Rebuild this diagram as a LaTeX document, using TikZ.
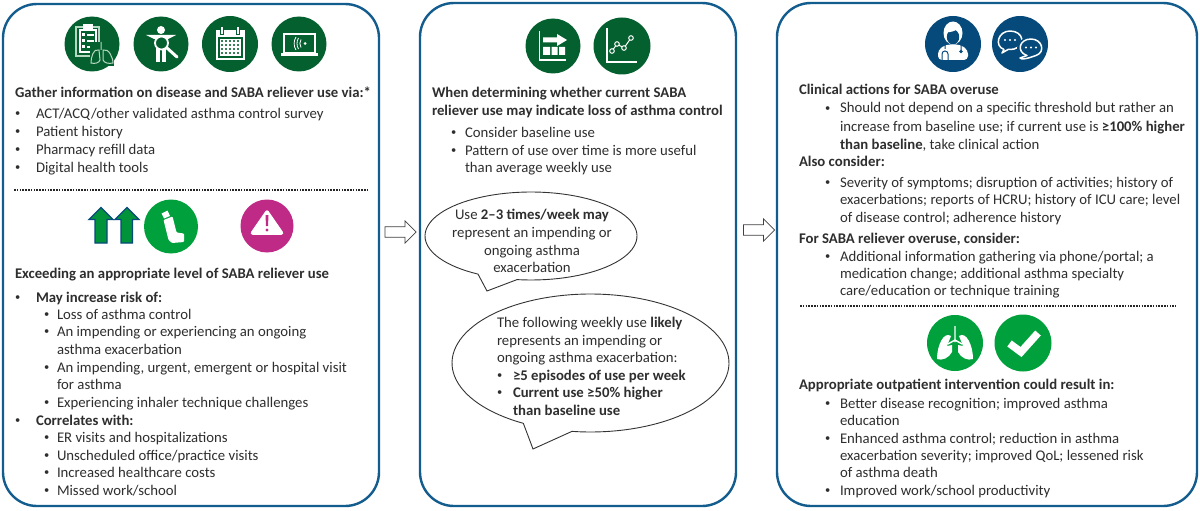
\documentclass[tikz,border=0pt]{standalone}
\usepackage{fontspec}
\setmainfont{Carlito}
\usetikzlibrary{shapes.arrows}
\definecolor{dkgreen}{HTML}{05602F}
\definecolor{brgreen}{HTML}{00A03C}
\definecolor{pinkc}{HTML}{C02A87}
\definecolor{navyc}{HTML}{054A7A}
\definecolor{borderc}{HTML}{135C8E}
\definecolor{txtc}{HTML}{2E2E2E}
\definecolor{palegreen}{HTML}{B5D8C0}
\tikzset{
 panel/.style={draw=borderc,line width=2.4pt,fill=white,rounded corners=34pt,inner sep=0pt},
 txt/.style={anchor=base west,inner sep=0pt,outer sep=0pt,text=txtc,font=\fontsize{14.75}{17}\selectfont},
 ctxt/.style={txt,anchor=base},
 icon/.style={circle,inner sep=0pt,minimum size=#1},
 gc/.style={icon=#1,fill=dkgreen},
 bc/.style={icon=#1,fill=brgreen},
 nc/.style={icon=#1,fill=navyc},
 pc/.style={icon=#1,fill=pinkc},
 dotline/.style={line width=1.4pt,dash pattern=on 1.5pt off 1.3pt,draw=black!85},
 blockarrow/.style={single arrow,draw=black!75,fill=white,line width=.7pt,minimum height=31pt,minimum width=22pt,inner sep=4.5pt,single arrow head extend=5.5pt,single arrow tip angle=90},
 upar/.style={draw=navyc,fill=brgreen!80!dkgreen,line width=1.4pt,line join=miter},
 bubble/.style={draw=black!80,fill=white,line width=.9pt,line join=miter}
}
\newcommand{\tl}[4]{\node[txt] (#1) at (#2,#3) {#4};}
\newcommand{\bl}[5]{\node[txt] (#1b) at (#2,#4-1.2) {\fontsize{10.5}{12}\selectfont •};\node[txt] (#1) at (#3,#4) {#5};}
\begin{document}
\begin{tikzpicture}[x=1pt,y=-1pt]
\useasboundingbox (0,0) rectangle (1200,511);
\fill[white] (0,0) rectangle (1200,511);
% panels
\node[panel,minimum width=376pt,minimum height=502pt] (p1) at (191,255) {};
\node[panel,minimum width=316pt,minimum height=503pt] (p2) at (578,254.5) {};
\node[panel,minimum width=420pt,minimum height=503pt] (p3) at (987,254.5) {};
% block arrows
\node[blockarrow] (a1) at (398,232) {};
\node[blockarrow] (a2) at (756.5,230) {};
% icon discs
\node[gc=55pt] (i1) at (92,44) {};
\node[gc=55pt] (i2) at (161,44) {};
\node[gc=56pt] (i3) at (230,44) {};
\node[gc=55pt] (i4) at (299,44) {};
\node[bc=54pt] (i5) at (171,226.5) {};
\node[pc=53pt] (i6) at (267,226) {};
\node[gc=55pt] (m1) at (553,46) {};
\node[gc=57pt] (m2) at (622,46) {};
\node[nc=56pt] (r1) at (953,44) {};
\node[nc=56pt] (r2) at (1020,44) {};
\node[bc=56pt] (r3) at (955,343) {};
\node[bc=57pt] (r4) at (1023,343) {};
% clipboard + lungs
\draw[palegreen,line width=1.2pt] (76,27) rectangle (99,56);
\draw[white,fill=white] (83,24) rectangle (92,29);
\draw[white,line width=1.2pt] (80,30) rectangle (96,52);
\foreach \yy in {35,41,47}{\fill[white] (82,\yy-1.5) rectangle (85,\yy+1.5);\draw[white,line width=1.2pt] (87,\yy) -- (94,\yy);}
\fill[dkgreen] (90,42) rectangle (114,66);
\draw[palegreen,line width=1pt,fill=dkgreen] (101,42) -- (101,50) (99,50) .. controls (93,48) and (91,58) .. (91,63) .. controls (95,64) and (99,63) .. (100,60) -- cycle
 (103,50) .. controls (109,48) and (113,58) .. (113,63) .. controls (109,64) and (104,63) .. (103,60) -- cycle;
% person + magnifier
\fill[white] (161,30) circle (4);
\fill[white] (146,35) -- (176,35) -- (168,39) -- (154,39) -- cycle;
\fill[white] (156,36) rectangle (166,50);
\fill[white] (156,50) rectangle (160.3,62);
\fill[white] (162,50) rectangle (166.3,62);
\draw[white,fill=dkgreen,line width=1.8pt] (161.5,43) circle (6.5);
\draw[white,line width=3pt,line cap=round] (167,48) -- (177,57);
% calendar
\fill[white] (216,30) rectangle (245,60);
\fill[dkgreen] (218,37) rectangle (243,58);
\fill[white] (220,39) rectangle (241,56);
\foreach \xx in {222,226,230,234,238}{\foreach \yy in {41,45,49,53}{\fill[dkgreen!80] (\xx-1.3,\yy-1.3) rectangle (\xx+1.3,\yy+1.3);}}
\draw[dkgreen,line width=3.2pt] (222,27) -- (222,35) (238,27) -- (238,35);
\draw[white,line width=1.4pt] (222,27) -- (222,34) (238,27) -- (238,34);
% laptop
\draw[white,line width=1.3pt] (284,34) rectangle (315,53);
\fill[white] (281,53) rectangle (318,56.5);
\fill[white] (305,43.5) circle (1.5);
\draw[white,line width=.8pt] (301,39.5) .. controls (299.5,42) and (299.5,45) .. (301,47.5)
 (298.5,38) .. controls (296.5,41) and (296.5,46) .. (298.5,49)
 (296,37) .. controls (293.5,41) and (293.5,46) .. (296,50);
% up arrows
\draw[upar] (101,207.5) -- (113,219.5) -- (107,219.5) -- (107,243) -- (95,243) -- (95,219.5) -- (89,219.5) -- cycle;
\draw[upar] (127,207.5) -- (139,219.5) -- (132.5,219.5) -- (132.5,243) -- (121,243) -- (121,219.5) -- (115,219.5) -- cycle;
% inhaler
\fill[white] (161.5,213.5) -- (167.5,210.5) -- (170,216) -- (164,218.5) -- cycle;
\fill[white,rounded corners=1pt] (163.5,220) -- (172.5,216.5) -- (176.5,232.5) -- (184,233.5) -- (184,242) -- (172,243) -- (168.5,240) -- cycle;
% warning
\fill[white,draw=white,line width=3.5pt,line join=round] (267,212) -- (281.5,233) -- (252.5,233) -- cycle;
\fill[pinkc] (265.5,215) -- (268.5,215) -- (268,226) -- (266,226) -- cycle;
\fill[pinkc] (267,230) circle (1.7);
% mid icon 1
\draw[white,line width=1.6pt] (539.5,31) -- (539.5,60) -- (565.5,60);
\fill[white] (543,47) rectangle (550,55) (551.5,47) rectangle (557.5,55) (559,47) rectangle (565,55);
\fill[white] (543,37.5) -- (557,37.5) -- (557,34) -- (567,40) -- (557,46) -- (557,42.5) -- (543,42.5) -- cycle;
% mid icon 2
\draw[white,line width=1.3pt] (607,28) -- (607,62) -- (637,62);
\draw[white,line width=1pt] (612,51) -- (617,44) -- (624,48) -- (631,38);
\foreach \pp in {(612,51),(617,44),(624,48),(631,38)}{\draw[white,fill=dkgreen,line width=1pt] \pp circle (2.3);}
% doctor
\fill[white] (953,33) ellipse (9.5 and 11.5);
\fill[navyc] (953,37) ellipse (6.2 and 7.5);
\fill[white] (945.5,32) .. controls (950,33) and (956,31) .. (960,27) -- (952,24) -- cycle;
\fill[white,rounded corners=4pt] (938,60) -- (938,50) -- (946,44.5) -- (960,44.5) -- (968,50) -- (968,60) -- cycle;
\draw[navyc,line width=1pt] (945,45) -- (945,49) (942,60) -- (942,54) .. controls (942,50) and (948,50) .. (948,54) -- (948,60) (961,45) -- (961,50);
\fill[navyc] (961,51.5) circle (1.8);
% chat
\draw[white,line width=1.5pt,line join=round] (1004,49.5) .. controls (994,46) and (998,31) .. (1010,31) .. controls (1024,31) and (1026,46) .. (1014,49) .. controls (1012,49.5) and (1010,49.5) .. (1008,49.5) -- (1002,53) -- cycle;
\fill[navyc] (1030,48) ellipse (13 and 11);
\draw[white,line width=1.5pt,line join=round] (1036,55.5) .. controls (1046,52) and (1042,39) .. (1031,39) .. controls (1019,39) and (1016,52) .. (1027,55.5) -- (1020,58) -- (1022,59) .. controls (1027,59) and (1031,57) .. (1036,55.5) -- cycle;
\foreach \xx in {1005,1010,1015}{\fill[white] (\xx,40) circle (1.2);}
\foreach \xx in {1026,1031,1036}{\fill[white] (\xx,47.5) circle (1.2);}
% lungs
\draw[white,line width=1.4pt] (955,326) -- (955,342) (955,340) -- (948,344) (955,340) -- (962,344);
\fill[white] (951,336) .. controls (944,331) and (937,345) .. (937,359) .. controls (942,361) and (949,358) .. (952,352) -- (952,345) -- (947,346) -- cycle;
\fill[white] (959,336) .. controls (966,331) and (973,345) .. (973,359) .. controls (968,361) and (961,358) .. (958,352) -- (958,345) -- (963,346) -- cycle;
% check
\draw[white,line width=7.5pt,line join=miter] (1009.5,343.5) -- (1021,352) -- (1038,333);
% dotted separators
\coordinate (d1a) at (14,190); \coordinate (d1b) at (369,190);
\coordinate (d2a) at (800,306); \coordinate (d2b) at (1176,306);
\draw[dotline] (d1a) -- (d1b);
\draw[dotline] (d2a) -- (d2b);
% bubbles
\draw[bubble] plot[domain=120:457.6,samples=90] ({531+106*cos(\x)},{236+44*sin(\x)}) -- (487,291) -- cycle;
\draw[bubble] plot[domain=119:457.7,samples=110] ({590.5+138.5*cos(\x)},{363+69*sin(\x)}) -- (533,449) -- cycle;
% left text
\tl{l1}{15}{97}{\textbf{Gather information on disease and SABA reliever use via:*}}
\bl{l2}{15}{36}{118}{ACT/ACQ/other validated asthma control survey}
\bl{l3}{15}{36}{136}{Patient history}
\bl{l4}{15}{36}{154}{Pharmacy refill data}
\bl{l5}{15}{36}{172}{Digital health tools}
\tl{l6}{15}{278}{\textbf{Exceeding an appropriate level of SABA reliever use}}
\bl{l7}{15}{36}{302}{\textbf{May increase risk of:}}
\bl{l8}{44}{57}{319}{Loss of asthma control}
\bl{l9}{44}{57}{336}{An impending or experiencing an ongoing}
\tl{l10}{57}{354}{asthma exacerbation}
\bl{l11}{44}{57}{372}{An impending, urgent, emergent or hospital visit}
\tl{l12}{57}{389}{for asthma}
\bl{l13}{44}{57}{407}{Experiencing inhaler technique challenges}
\bl{l14}{15}{36}{425}{\textbf{Correlates with:}}
\bl{l15}{44}{57}{442}{ER visits and hospitalizations}
\bl{l16}{44}{57}{460}{Unscheduled office/practice visits}
\bl{l17}{44}{57}{477}{Increased healthcare costs}
\bl{l18}{44}{57}{495}{Missed work/school}
% middle text
\tl{m3}{432}{97}{\textbf{When determining whether current SABA}}
\tl{m4}{432}{115}{\textbf{reliever use may indicate loss of asthma control}}
\bl{m5}{451}{465}{137}{Consider baseline use}
\bl{m6}{451}{465}{155}{Pattern of use over time is more useful}
\tl{m7}{465}{172}{than average weekly use}
\node[ctxt] (b1) at (532,219) {Use \textbf{2–3 times/week may}};
\node[ctxt] (b2) at (532,237) {represent an impending or};
\node[ctxt] (b3) at (532,255) {ongoing asthma};
\node[ctxt] (b4) at (532,272) {exacerbation};
\tl{c1}{497}{327}{The following weekly use \textbf{likely}}
\tl{c2}{497}{345}{represents an impending or}
\tl{c3}{497}{362}{ongoing asthma exacerbation:}
\bl{c4}{497}{513}{380}{\textbf{≥5 episodes of use per week}}
\bl{c5}{497}{513}{397}{\textbf{Current use ≥50\% higher}}
\tl{c6}{513}{415}{\textbf{than baseline use}}
% right text
\tl{t1}{799}{95}{\textbf{Clinical actions for SABA overuse}}
\bl{t2}{825}{840}{113}{Should not depend on a specific threshold but rather an}
\tl{t3}{840}{131}{increase from baseline use; if current use is \textbf{≥100\% higher}}
\tl{t4}{840}{149}{\textbf{than baseline}, take clinical action}
\tl{t5}{799}{166}{\textbf{Also consider:}}
\bl{t6}{825}{840}{187}{Severity of symptoms; disruption of activities; history of}
\tl{t7}{840}{204}{exacerbations; reports of HCRU; history of ICU care; level}
\tl{t8}{840}{222}{of disease control; adherence history}
\tl{t9}{799}{243}{\textbf{For SABA reliever overuse, consider:}}
\bl{t10}{825}{840}{261}{Additional information gathering via phone/portal; a}
\tl{t11}{840}{278}{medication change; additional asthma specialty}
\tl{t12}{840}{295}{care/education or technique training}
\tl{t13}{799}{389}{\textbf{Appropriate outpatient intervention could result in:}}
\bl{t14}{825}{840}{408}{Better disease recognition; improved asthma}
\tl{t15}{840}{425}{education}
\bl{t16}{825}{840}{443}{Enhanced asthma control; reduction in asthma}
\tl{t17}{840}{460}{exacerbation severity; improved QoL; lessened risk}
\tl{t18}{840}{477}{of asthma death}
\bl{t19}{825}{840}{495}{Improved work/school productivity}
\end{tikzpicture}
\end{document}
